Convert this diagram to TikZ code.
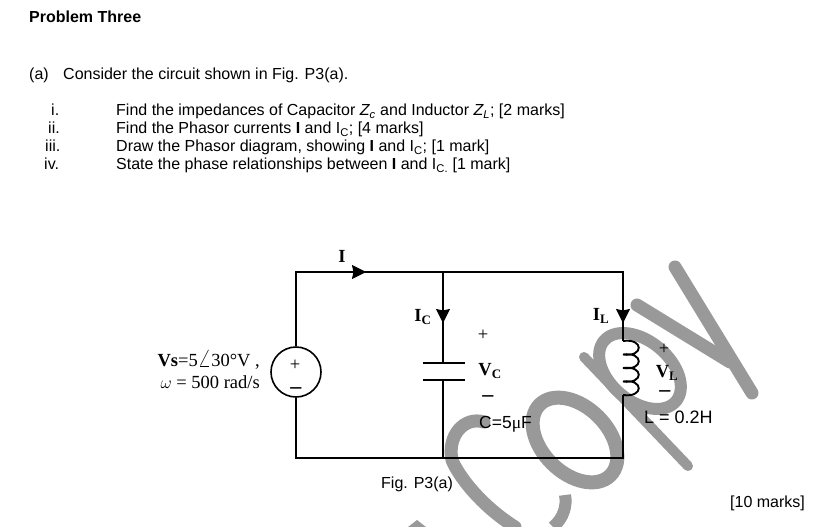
\documentclass[tikz,border=0pt]{standalone}
\usepackage{fontspec}
\setmainfont{Liberation Sans}
\newfontfamily\serifcct{Liberation Serif}
\usetikzlibrary{arrows.meta}
\definecolor{wmgray}{gray}{0.6}
\newcommand{\barminus}{\fontsize{22}{22}\selectfont\textbf{–}}
\tikzset{
  txt/.style = {anchor = base west, inner sep = 0pt, font = \fontsize{16}{18}\selectfont},
  cct/.style = {inner sep = 0pt, font = \serifcct\fontsize{18.5}{20}\selectfont},
  wire/.style = {line width = 1.6pt, black},
  wm/.style = {line width = 13pt, wmgray},
  tipfwd/.style = {-{Stealth[length = 14pt, width = 14pt, inset = 1.5pt]}, line width = 1.6pt}
}
\begin{document}
\begin{tikzpicture}[x = 1pt, y = -1pt]
  \useasboundingbox (0, 0) rectangle (840, 527);
  \fill[white] (0, 0) rectangle (840, 527);

  % watermark
  \draw[wm, line cap = round] (484, 422) .. controls (464, 416) and (447, 436) .. (452, 460) .. controls (458, 475) and (480, 505) .. (515, 527);
  \draw[wm, line width = 12pt] (565, 495) .. controls (567, 505) and (564, 518) .. (553, 527);
  \fill[wmgray] (408, 527) -- (417, 520) -- (426, 527) -- cycle;
  \draw[wm, line width = 14pt, shift = {(575, 440)}, rotate = -45] (0, 0) ellipse [x radius = 50, y radius = 33];
  \draw[wm, line width = 12pt, shift = {(640, 371)}, rotate = -40] (0, 0) ellipse [x radius = 47, y radius = 30];
  \draw[wm, line width = 10pt, line cap = round] (584, 357) -- (688, 466);
  \draw[wm, line cap = round] (637, 305) -- (730, 362);
  \draw[wm, line cap = round] (675, 267) -- (752, 393);

  % heading and questions
  \node[txt, font = \fontsize{16}{18}\selectfont\bfseries] (title) at (29, 23) {Problem Three};
  \node[txt] (parta) at (29, 79.5) {(a)};
  \node[txt] (intro) at (63, 79.5) {Consider the circuit shown in Fig. P3(a).};
  \foreach \n/\lab/\y/\x in {one/i./115.5/51, two/ii./133.5/48, three/iii./151.5/45, four/iv./169.5/44} {
    \node[txt] (num\n) at (\x, \y) {\lab};
  }
  \node[txt] (qone) at (116, 115.5) {Find the impedances of Capacitor \textit{Z\textsubscript{c}} and Inductor \textit{Z\textsubscript{L}}; [2 marks]};
  \node[txt] (qtwo) at (116, 133.5) {Find the Phasor currents \textbf{I} and I\textsubscript{C}; [4 marks]};
  \node[txt] (qthree) at (116, 151.5) {Draw the Phasor diagram, showing \textbf{I} and I\textsubscript{C}; [1 mark]};
  \node[txt] (qfour) at (116, 169.5) {State the phase relationships between \textbf{I} and I\textsubscript{C.} [1 mark]};

  % corners and source
  \coordinate (tl) at (296, 272);
  \coordinate (tm) at (443, 272);
  \coordinate (tr) at (623, 272);
  \coordinate (bl) at (296, 458);
  \coordinate (bm) at (443, 458);
  \coordinate (br) at (623, 458);
  \coordinate (lup) at (623, 341);
  \coordinate (ldn) at (623, 395);
  \node[circle, draw, line width = 1.6pt, minimum size = 50pt, inner sep = 0pt] (src) at (296, 372) {};
  \node[cct] (srcplus) at (295, 365) {+};
  \node[cct] (srcminus) at (296, 391) {\barminus};

  % capacitor plates
  \coordinate (cup) at (443, 363);
  \coordinate (cdn) at (443, 380);
  \draw[wire, line width = 2.2pt] (423, 363) -- (465, 363);
  \draw[wire, line width = 2.2pt] (423, 380) -- (465, 380);

  % wires
  \draw[wire] (src.north) -- (tl) -- (tr) -- (lup);
  \draw[wire] (src.south) -- (bl) -- (br) -- (ldn);
  \draw[wire] (tm) -- (cup);
  \draw[wire] (cdn) -- (bm);
  \draw[wire, line width = 1.9pt] (lup) \foreach \k in {1, 2, 3, 4} { .. controls +(21, -3) and +(21, 3) .. ++(0, 13.5) };

  % current arrows
  \coordinate (ia) at (345, 272);
  \coordinate (ib) at (366, 272);
  \coordinate (ica) at (443, 300);
  \coordinate (icb) at (443, 323);
  \coordinate (ila) at (623, 300);
  \coordinate (ilb) at (623, 323);
  \draw[tipfwd] (ia) -- (ib);
  \draw[tipfwd] (ica) -- (icb);
  \draw[tipfwd] (ila) -- (ilb);

  % circuit labels
  \node[cct, font = \serifcct\fontsize{18.5}{20}\selectfont\bfseries] (ilab) at (342, 256) {I};
  \node[cct] (iclab) at (423, 317) {\textbf{I\textsubscript{C}}};
  \node[cct] (illab) at (601, 316) {\textbf{I\textsubscript{L}}};
  \node[cct, anchor = base east] (vs) at (260, 366) {\textbf{Vs}=5{\fontsize{23}{23}\selectfont$\angle$}30°V ,};
  \node[cct, anchor = base east] (omega) at (260, 388) {$\omega$ = 500 rad/s};
  \node[cct] (vcplus) at (483, 335) {+};
  \node[cct] (vclab) at (490, 371) {\textbf{V\textsubscript{C}}};
  \node[cct] (vcminus) at (488, 399) {\barminus};
  \node[txt, font = \fontsize{17.5}{19}\selectfont] (clab) at (479, 428) {C=5{\serifcct μ}F};
  \node[cct] (vlplus) at (664, 349) {+};
  \node[cct] (vllab) at (667, 373) {\textbf{V\textsubscript{L}}};
  \node[cct] (vlminus) at (665, 394) {\barminus};
  \node[txt, font = \fontsize{18}{20}\selectfont] (llab) at (644, 423) {L = 0.2H};
  \node[txt] (figlab) at (381, 488) {Fig. P3(a)};
  \node[txt] (marks) at (730, 507) {[10 marks]};
\end{tikzpicture}
\end{document}
